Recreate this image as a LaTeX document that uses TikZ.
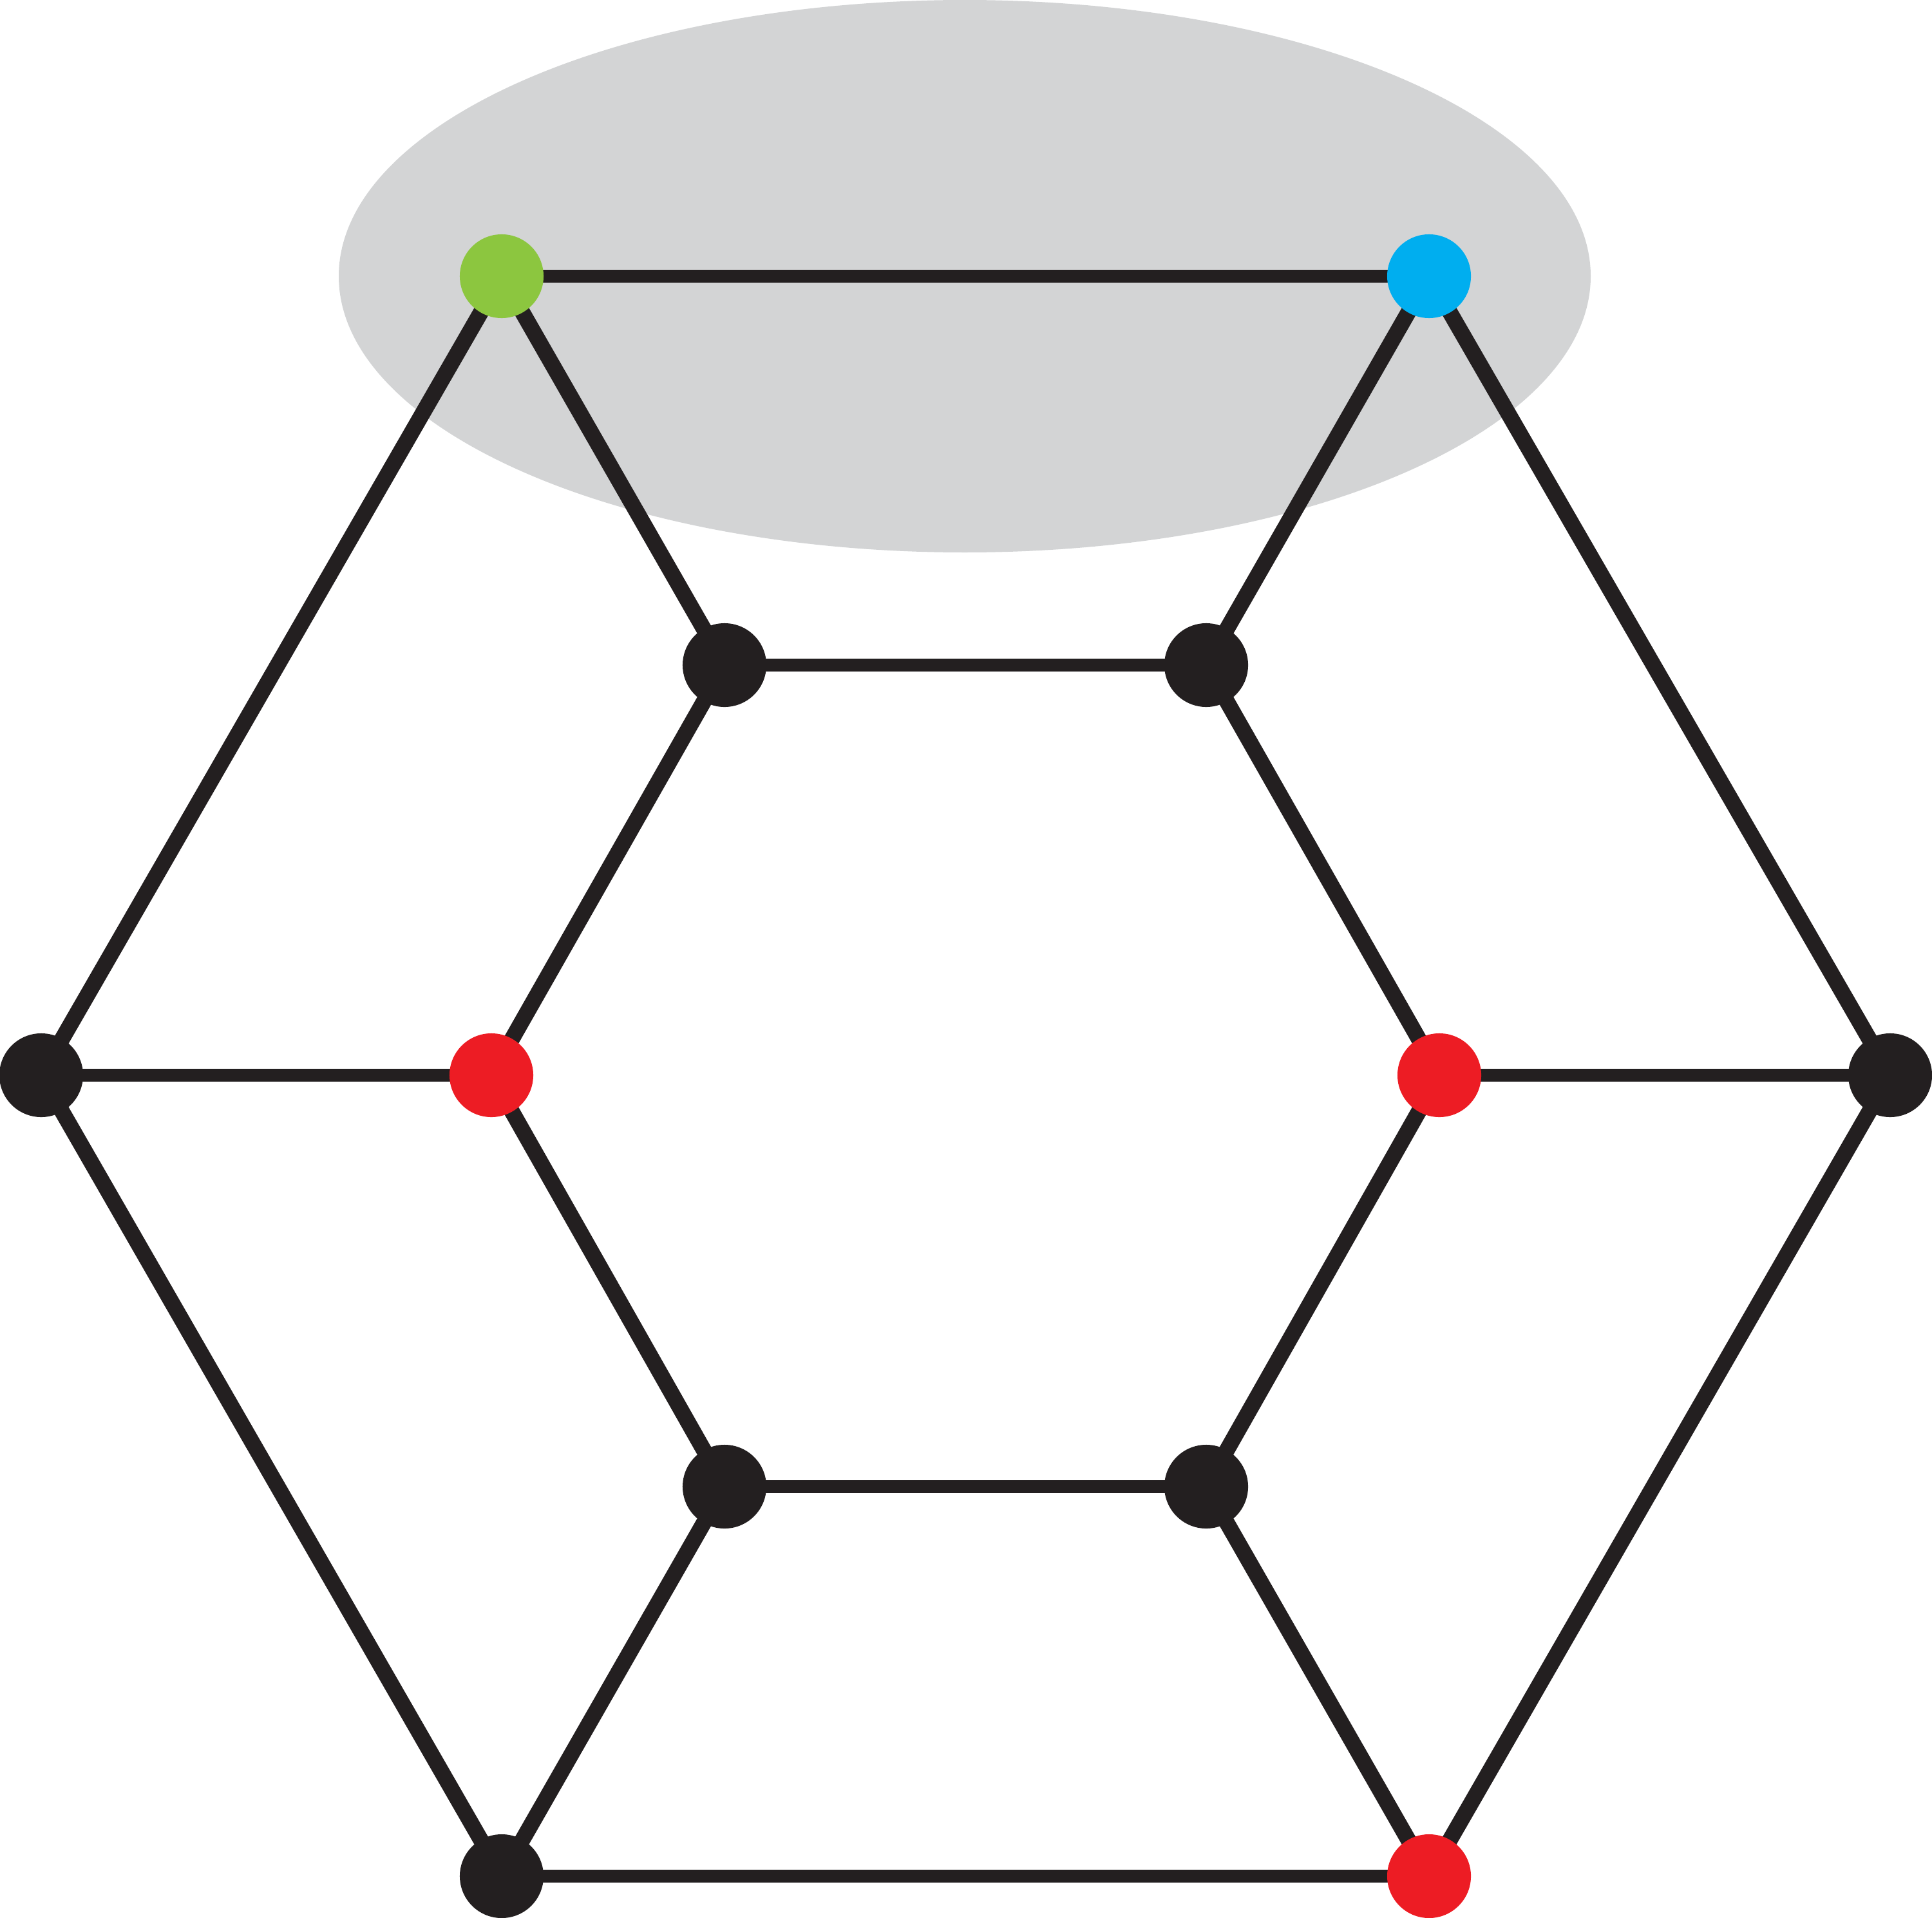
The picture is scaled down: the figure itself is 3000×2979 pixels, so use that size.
\documentclass[tikz,border=0pt]{standalone}
\definecolor{gnode}{HTML}{8CC63F}
\definecolor{bnode}{HTML}{00AEEF}
\definecolor{rnode}{HTML}{ED1C24}
\definecolor{knode}{HTML}{231F20}
\definecolor{greyfill}{HTML}{D3D4D5}
\begin{document}
\begin{tikzpicture}[x=0.01cm,y=-0.01cm,
  vtx/.style={circle,inner sep=0pt,minimum size=1.3cm},
  edge/.style={draw=knode,line width=0.245cm},
  thinedge/.style={draw=knode,line width=0.2cm}]
\useasboundingbox (0,0) rectangle (3000,2979);
\fill[greyfill] (1498,429) ellipse [x radius=972, y radius=429];
\coordinate (G) at (779,429);
\coordinate (B) at (2219,429);
\coordinate (ITL) at (1125,1033);
\coordinate (ITR) at (1873,1033);
\coordinate (RL) at (763,1670);
\coordinate (RR) at (2235,1670);
\coordinate (OL) at (64,1670);
\coordinate (OR) at (2935,1670);
\coordinate (IBL) at (1125,2309);
\coordinate (IBR) at (1873,2309);
\coordinate (BL) at (779,2914);
\coordinate (BR) at (2219,2914);
\draw[thinedge] (G) -- (B);
\draw[edge] (G) -- (OL);
\draw[edge] (G) -- (ITL);
\draw[edge] (B) -- (ITR);
\draw[edge] (B) -- (OR);
\draw[thinedge] (ITL) -- (ITR);
\draw[edge] (ITL) -- (RL);
\draw[edge] (ITR) -- (RR);
\draw[thinedge] (OL) -- (RL);
\draw[thinedge] (RR) -- (OR);
\draw[edge] (RL) -- (IBL);
\draw[edge] (RR) -- (IBR);
\draw[thinedge] (IBL) -- (IBR);
\draw[edge] (OL) -- (BL);
\draw[edge] (OR) -- (BR);
\draw[edge] (IBL) -- (BL);
\draw[edge] (IBR) -- (BR);
\draw[thinedge] (BL) -- (BR);
\node[vtx,fill=gnode] (g) at (G) {};
\node[vtx,fill=bnode] (b) at (B) {};
\node[vtx,fill=knode] (itl) at (ITL) {};
\node[vtx,fill=knode] (itr) at (ITR) {};
\node[vtx,fill=rnode] (rl) at (RL) {};
\node[vtx,fill=rnode] (rr) at (RR) {};
\node[vtx,fill=knode] (ol) at (OL) {};
\node[vtx,fill=knode] (or) at (OR) {};
\node[vtx,fill=knode] (ibl) at (IBL) {};
\node[vtx,fill=knode] (ibr) at (IBR) {};
\node[vtx,fill=knode] (bl) at (BL) {};
\node[vtx,fill=rnode] (br) at (BR) {};
\end{tikzpicture}
\end{document}
